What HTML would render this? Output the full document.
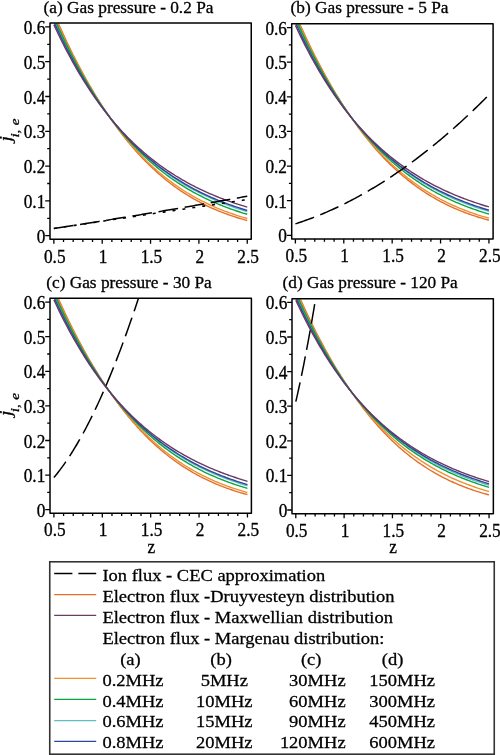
<!DOCTYPE html>
<html lang="en">
<head>
<meta charset="utf-8">
<title>Ion and electron flux vs z at several gas pressures</title>
<style>
html,body{margin:0;padding:0;background:#fff;}
body{width:500px;height:755px;overflow:hidden;}
svg{display:block;}
text{white-space:pre;stroke:#000;stroke-width:0.3px;}
</style>
</head>
<body>
<svg width="500" height="755" viewBox="0 0 500 755">
<rect x="0" y="0" width="500" height="755" fill="#fff"/>
<g id="panel-a">
<clipPath id="clipa"><rect x="50.00" y="23.40" width="201.25" height="215.90"/></clipPath>
<g clip-path="url(#clipa)" fill="none" stroke-width="1.4">
<path d="M53.85,13.24 L55.46,16.97 L57.07,20.64 L58.69,24.28 L60.30,27.86 L61.91,31.40 L63.52,34.90 L65.13,38.35 L66.74,41.76 L68.36,45.12 L69.97,48.44 L71.58,51.71 L73.19,54.94 L74.80,58.13 L76.41,61.27 L78.03,64.37 L79.64,67.43 L81.25,70.45 L82.86,73.43 L84.47,76.36 L86.08,79.25 L87.69,82.11 L89.31,84.92 L90.92,87.69 L92.53,90.43 L94.14,93.12 L95.75,95.78 L97.36,98.40 L98.98,100.97 L100.59,103.51 L102.20,106.02 L103.81,108.48 L105.42,110.91 L107.04,113.31 L108.65,115.66 L110.26,117.99 L111.87,120.32 L113.48,122.62 L115.09,124.88 L116.70,127.10 L118.32,129.29 L119.93,131.45 L121.54,133.57 L123.15,135.66 L124.76,137.71 L126.38,139.73 L127.99,141.72 L129.60,143.67 L131.21,145.60 L132.82,147.49 L134.43,149.35 L136.05,151.18 L137.66,152.97 L139.27,154.74 L140.88,156.48 L142.49,158.19 L144.10,159.86 L145.72,161.51 L147.33,163.13 L148.94,164.72 L150.55,166.29 L152.16,167.82 L153.77,169.33 L155.39,170.81 L157.00,172.26 L158.61,173.69 L160.22,175.09 L161.83,176.47 L163.44,177.82 L165.06,179.14 L166.67,180.44 L168.28,181.72 L169.89,182.97 L171.50,184.19 L173.11,185.40 L174.72,186.58 L176.34,187.73 L177.95,188.87 L179.56,189.98 L181.17,191.07 L182.78,192.14 L184.40,193.19 L186.01,194.21 L187.62,195.22 L189.23,196.21 L190.84,197.17 L192.45,198.12 L194.06,199.04 L195.68,199.95 L197.29,200.84 L198.90,201.71 L200.51,202.56 L202.12,203.39 L203.73,204.21 L205.35,205.00 L206.96,205.79 L208.57,206.55 L210.18,207.30 L211.79,208.03 L213.41,208.74 L215.02,209.44 L216.63,210.13 L218.24,210.79 L219.85,211.45 L221.46,212.09 L223.07,212.71 L224.69,213.32 L226.30,213.92 L227.91,214.50 L229.52,215.07 L231.13,215.63 L232.74,216.17 L234.36,216.70 L235.97,217.22 L237.58,217.72 L239.19,218.22 L240.80,218.70 L242.42,219.17 L244.03,219.63 L245.64,220.08 L247.25,220.51" stroke="#E5702A"/>
<path d="M53.85,15.22 L55.46,18.90 L57.07,22.54 L58.69,26.13 L60.30,29.66 L61.91,33.16 L63.52,36.60 L65.13,40.00 L66.74,43.36 L68.36,46.66 L69.97,49.93 L71.58,53.14 L73.19,56.32 L74.80,59.45 L76.41,62.53 L78.03,65.57 L79.64,68.57 L81.25,71.53 L82.86,74.45 L84.47,77.32 L86.08,80.15 L87.69,82.94 L89.31,85.70 L90.92,88.41 L92.53,91.08 L94.14,93.71 L95.75,96.31 L97.36,98.86 L98.98,101.38 L100.59,103.86 L102.20,106.30 L103.81,108.71 L105.42,111.08 L107.04,113.41 L108.65,115.71 L110.26,117.98 L111.87,120.23 L113.48,122.45 L115.09,124.63 L116.70,126.79 L118.32,128.90 L119.93,130.99 L121.54,133.04 L123.15,135.06 L124.76,137.04 L126.38,138.99 L127.99,140.92 L129.60,142.81 L131.21,144.67 L132.82,146.50 L134.43,148.30 L136.05,150.07 L137.66,151.81 L139.27,153.52 L140.88,155.20 L142.49,156.86 L144.10,158.48 L145.72,160.08 L147.33,161.65 L148.94,163.20 L150.55,164.71 L152.16,166.20 L153.77,167.67 L155.39,169.11 L157.00,170.52 L158.61,171.91 L160.22,173.27 L161.83,174.61 L163.44,175.93 L165.06,177.22 L166.67,178.49 L168.28,179.74 L169.89,180.96 L171.50,182.16 L173.11,183.34 L174.72,184.49 L176.34,185.63 L177.95,186.74 L179.56,187.83 L181.17,188.90 L182.78,189.96 L184.40,190.99 L186.01,192.00 L187.62,192.99 L189.23,193.96 L190.84,194.92 L192.45,195.85 L194.06,196.77 L195.68,197.67 L197.29,198.55 L198.90,199.42 L200.51,200.26 L202.12,201.09 L203.73,201.91 L205.35,202.70 L206.96,203.48 L208.57,204.25 L210.18,205.00 L211.79,205.73 L213.41,206.45 L215.02,207.15 L216.63,207.84 L218.24,208.52 L219.85,209.18 L221.46,209.83 L223.07,210.46 L224.69,211.08 L226.30,211.69 L227.91,212.28 L229.52,212.86 L231.13,213.43 L232.74,213.98 L234.36,214.53 L235.97,215.06 L237.58,215.58 L239.19,216.09 L240.80,216.59 L242.42,217.07 L244.03,217.55 L245.64,218.01 L247.25,218.47" stroke="#EE9030"/>
<path d="M53.85,19.46 L55.46,23.06 L57.07,26.60 L58.69,30.09 L60.30,33.53 L61.91,36.92 L63.52,40.26 L65.13,43.55 L66.74,46.79 L68.36,49.98 L69.97,53.13 L71.58,56.22 L73.19,59.28 L74.80,62.28 L76.41,65.24 L78.03,68.16 L79.64,71.03 L81.25,73.86 L82.86,76.64 L84.47,79.39 L86.08,82.09 L87.69,84.75 L89.31,87.37 L90.92,89.95 L92.53,92.48 L94.14,94.99 L95.75,97.45 L97.36,99.87 L98.98,102.26 L100.59,104.60 L102.20,106.92 L103.81,109.19 L105.42,111.43 L107.04,113.64 L108.65,115.81 L110.26,117.93 L111.87,119.99 L113.48,122.00 L115.09,123.99 L116.70,125.94 L118.32,127.86 L119.93,129.76 L121.54,131.62 L123.15,133.45 L124.76,135.25 L126.38,137.02 L127.99,138.76 L129.60,140.48 L131.21,142.16 L132.82,143.82 L134.43,145.45 L136.05,147.06 L137.66,148.64 L139.27,150.19 L140.88,151.72 L142.49,153.22 L144.10,154.70 L145.72,156.15 L147.33,157.58 L148.94,158.98 L150.55,160.37 L152.16,161.73 L153.77,163.06 L155.39,164.38 L157.00,165.67 L158.61,166.94 L160.22,168.19 L161.83,169.42 L163.44,170.62 L165.06,171.81 L166.67,172.98 L168.28,174.13 L169.89,175.26 L171.50,176.36 L173.11,177.46 L174.72,178.53 L176.34,179.58 L177.95,180.62 L179.56,181.64 L181.17,182.64 L182.78,183.62 L184.40,184.59 L186.01,185.54 L187.62,186.47 L189.23,187.39 L190.84,188.29 L192.45,189.18 L194.06,190.05 L195.68,190.90 L197.29,191.75 L198.90,192.57 L200.51,193.38 L202.12,194.18 L203.73,194.97 L205.35,195.74 L206.96,196.49 L208.57,197.24 L210.18,197.97 L211.79,198.69 L213.41,199.39 L215.02,200.08 L216.63,200.76 L218.24,201.43 L219.85,202.09 L221.46,202.73 L223.07,203.37 L224.69,203.99 L226.30,204.60 L227.91,205.20 L229.52,205.79 L231.13,206.37 L232.74,206.94 L234.36,207.50 L235.97,208.04 L237.58,208.58 L239.19,209.11 L240.80,209.63 L242.42,210.14 L244.03,210.64 L245.64,211.13 L247.25,211.61" stroke="#60BEC0"/>
<path d="M53.85,17.41 L55.46,21.05 L57.07,24.63 L58.69,28.17 L60.30,31.66 L61.91,35.10 L63.52,38.49 L65.13,41.83 L66.74,45.13 L68.36,48.37 L69.97,51.58 L71.58,54.73 L73.19,57.84 L74.80,60.91 L76.41,63.93 L78.03,66.91 L79.64,69.84 L81.25,72.73 L82.86,75.58 L84.47,78.38 L86.08,81.15 L87.69,83.87 L89.31,86.56 L90.92,89.20 L92.53,91.80 L94.14,94.37 L95.75,96.89 L97.36,99.38 L98.98,101.83 L100.59,104.24 L102.20,106.62 L103.81,108.96 L105.42,111.26 L107.04,113.53 L108.65,115.76 L110.26,117.95 L111.87,120.07 L113.48,122.16 L115.09,124.21 L116.70,126.24 L118.32,128.23 L119.93,130.19 L121.54,132.11 L123.15,134.01 L124.76,135.88 L126.38,137.71 L127.99,139.52 L129.60,141.30 L131.21,143.04 L132.82,144.76 L134.43,146.46 L136.05,148.12 L137.66,149.76 L139.27,151.37 L140.88,152.95 L142.49,154.51 L144.10,156.04 L145.72,157.54 L147.33,159.03 L148.94,160.48 L150.55,161.91 L152.16,163.32 L153.77,164.70 L155.39,166.06 L157.00,167.40 L158.61,168.72 L160.22,170.01 L161.83,171.28 L163.44,172.53 L165.06,173.75 L166.67,174.96 L168.28,176.15 L169.89,177.31 L171.50,178.45 L173.11,179.58 L174.72,180.68 L176.34,181.77 L177.95,182.84 L179.56,183.88 L181.17,184.91 L182.78,185.93 L184.40,186.92 L186.01,187.89 L187.62,188.85 L189.23,189.79 L190.84,190.72 L192.45,191.63 L194.06,192.52 L195.68,193.39 L197.29,194.25 L198.90,195.10 L200.51,195.93 L202.12,196.74 L203.73,197.54 L205.35,198.32 L206.96,199.09 L208.57,199.85 L210.18,200.59 L211.79,201.32 L213.41,202.03 L215.02,202.73 L216.63,203.42 L218.24,204.09 L219.85,204.76 L221.46,205.41 L223.07,206.04 L224.69,206.67 L226.30,207.28 L227.91,207.89 L229.52,208.48 L231.13,209.06 L232.74,209.63 L234.36,210.18 L235.97,210.73 L237.58,211.27 L239.19,211.79 L240.80,212.31 L242.42,212.81 L244.03,213.31 L245.64,213.79 L247.25,214.27" stroke="#0AA540"/>
<path d="M53.85,21.84 L55.46,25.38 L57.07,28.87 L58.69,32.31 L60.30,35.70 L61.91,39.03 L63.52,42.31 L65.13,45.53 L66.74,48.71 L68.36,51.84 L69.97,54.92 L71.58,57.95 L73.19,60.93 L74.80,63.87 L76.41,66.76 L78.03,69.61 L79.64,72.41 L81.25,75.16 L82.86,77.88 L84.47,80.55 L86.08,83.18 L87.69,85.76 L89.31,88.31 L90.92,90.81 L92.53,93.28 L94.14,95.70 L95.75,98.09 L97.36,100.44 L98.98,102.75 L100.59,105.03 L102.20,107.26 L103.81,109.47 L105.42,111.64 L107.04,113.77 L108.65,115.87 L110.26,117.93 L111.87,119.95 L113.48,121.94 L115.09,123.90 L116.70,125.82 L118.32,127.72 L119.93,129.58 L121.54,131.41 L123.15,133.22 L124.76,134.99 L126.38,136.74 L127.99,138.45 L129.60,140.14 L131.21,141.80 L132.82,143.44 L134.43,145.04 L136.05,146.62 L137.66,148.18 L139.27,149.71 L140.88,151.21 L142.49,152.69 L144.10,154.15 L145.72,155.58 L147.33,156.98 L148.94,158.37 L150.55,159.73 L152.16,161.07 L153.77,162.39 L155.39,163.68 L157.00,164.95 L158.61,166.20 L160.22,167.44 L161.83,168.65 L163.44,169.84 L165.06,171.01 L166.67,172.16 L168.28,173.29 L169.89,174.40 L171.50,175.50 L173.11,176.57 L174.72,177.63 L176.34,178.67 L177.95,179.69 L179.56,180.70 L181.17,181.68 L182.78,182.65 L184.40,183.61 L186.01,184.55 L187.62,185.47 L189.23,186.38 L190.84,187.27 L192.45,188.15 L194.06,189.01 L195.68,189.85 L197.29,190.69 L198.90,191.50 L200.51,192.31 L202.12,193.10 L203.73,193.88 L205.35,194.64 L206.96,195.39 L208.57,196.13 L210.18,196.85 L211.79,197.56 L213.41,198.26 L215.02,198.95 L216.63,199.63 L218.24,200.29 L219.85,200.94 L221.46,201.58 L223.07,202.21 L224.69,202.83 L226.30,203.44 L227.91,204.04 L229.52,204.63 L231.13,205.20 L232.74,205.77 L234.36,206.33 L235.97,206.88 L237.58,207.41 L239.19,207.94 L240.80,208.46 L242.42,208.97 L244.03,209.47 L245.64,209.96 L247.25,210.45" stroke="#2C46A0"/>
<path d="M53.85,24.63 L55.46,28.12 L57.07,31.55 L58.69,34.92 L60.30,38.24 L61.91,41.50 L63.52,44.71 L65.13,47.87 L66.74,50.97 L68.36,54.03 L69.97,57.03 L71.58,59.98 L73.19,62.89 L74.80,65.74 L76.41,68.55 L78.03,71.32 L79.64,74.03 L81.25,76.71 L82.86,79.33 L84.47,81.92 L86.08,84.46 L87.69,86.96 L89.31,89.42 L90.92,91.84 L92.53,94.21 L94.14,96.55 L95.75,98.85 L97.36,101.11 L98.98,103.34 L100.59,105.53 L102.20,107.68 L103.81,109.79 L105.42,111.88 L107.04,113.92 L108.65,115.93 L110.26,117.91 L111.87,119.86 L113.48,121.78 L115.09,123.66 L116.70,125.51 L118.32,127.33 L119.93,129.12 L121.54,130.88 L123.15,132.62 L124.76,134.32 L126.38,136.00 L127.99,137.64 L129.60,139.27 L131.21,140.86 L132.82,142.43 L134.43,143.97 L136.05,145.48 L137.66,146.98 L139.27,148.44 L140.88,149.88 L142.49,151.30 L144.10,152.70 L145.72,154.07 L147.33,155.42 L148.94,156.75 L150.55,158.05 L152.16,159.33 L153.77,160.60 L155.39,161.84 L157.00,163.06 L158.61,164.26 L160.22,165.44 L161.83,166.60 L163.44,167.74 L165.06,168.87 L166.67,169.97 L168.28,171.06 L169.89,172.13 L171.50,173.18 L173.11,174.21 L174.72,175.23 L176.34,176.23 L177.95,177.21 L179.56,178.18 L181.17,179.13 L182.78,180.06 L184.40,180.98 L186.01,181.89 L187.62,182.78 L189.23,183.65 L190.84,184.51 L192.45,185.36 L194.06,186.19 L195.68,187.01 L197.29,187.81 L198.90,188.60 L200.51,189.38 L202.12,190.15 L203.73,190.90 L205.35,191.64 L206.96,192.37 L208.57,193.09 L210.18,193.79 L211.79,194.48 L213.41,195.16 L215.02,195.83 L216.63,196.49 L218.24,197.14 L219.85,197.78 L221.46,198.40 L223.07,199.02 L224.69,199.63 L226.30,200.22 L227.91,200.81 L229.52,201.39 L231.13,201.95 L232.74,202.51 L234.36,203.06 L235.97,203.60 L237.58,204.13 L239.19,204.65 L240.80,205.17 L242.42,205.67 L244.03,206.17 L245.64,206.65 L247.25,207.13" stroke="#6B3A62"/>
<path d="M53.85,228.48 L55.46,228.24 L57.07,228.00 L58.69,227.76 L60.30,227.52 L61.91,227.28 L63.52,227.03 L65.13,226.79 L66.74,226.55 L68.36,226.31 L69.97,226.07 L71.58,225.83 L73.19,225.59 L74.80,225.35 L76.41,225.11 L78.03,224.87 L79.64,224.63 L81.25,224.39 L82.86,224.15 L84.47,223.91 L86.08,223.66 L87.69,223.42 L89.31,223.18 L90.92,222.94 L92.53,222.70 L94.14,222.46 L95.75,222.22 L97.36,221.98 L98.98,221.74 L100.59,221.50 L102.20,221.26 L103.81,221.02 L105.42,220.78 L107.04,220.54 L108.65,220.30 L110.26,220.05 L111.87,219.81 L113.48,219.57 L115.09,219.33 L116.70,219.09 L118.32,218.85 L119.93,218.61 L121.54,218.37 L123.15,218.13 L124.76,217.89 L126.38,217.65 L127.99,217.41 L129.60,217.17 L131.21,216.93 L132.82,216.68 L134.43,216.44 L136.05,216.20 L137.66,215.96 L139.27,215.72 L140.88,215.48 L142.49,215.24 L144.10,215.00 L145.72,214.76 L147.33,214.52 L148.94,214.28 L150.55,214.04 L152.16,213.80 L153.77,213.56 L155.39,213.31 L157.00,213.07 L158.61,212.83 L160.22,212.59 L161.83,212.35 L163.44,212.11 L165.06,211.87 L166.67,211.63 L168.28,211.39 L169.89,211.15 L171.50,210.91 L173.11,210.67 L174.72,210.43 L176.34,210.19 L177.95,209.95 L179.56,209.70 L181.17,209.46 L182.78,209.22 L184.40,208.98 L186.01,208.74 L187.62,208.50 L189.23,208.26 L190.84,208.02 L192.45,207.78 L194.06,207.54 L195.68,207.30 L197.29,207.06 L198.90,206.82 L200.51,206.58 L202.12,206.33 L203.73,206.09 L205.35,205.85 L206.96,205.61 L208.57,205.37 L210.18,205.13 L211.79,204.89 L213.41,204.65 L215.02,204.41 L216.63,204.17 L218.24,203.93 L219.85,203.69 L221.46,203.45 L223.07,203.21 L224.69,202.96 L226.30,202.72 L227.91,202.48 L229.52,202.24 L231.13,202.00 L232.74,201.76 L234.36,201.52 L235.97,201.28 L237.58,201.04 L239.19,200.80 L240.80,200.56 L242.42,200.32 L244.03,200.08 L245.64,199.84 L247.25,199.59" stroke="#000" stroke-width="1.6" stroke-dasharray="3 7"/>
<path d="M53.85,228.48 L55.46,228.24 L57.07,227.99 L58.69,227.74 L60.30,227.49 L61.91,227.25 L63.52,227.00 L65.13,226.75 L66.74,226.50 L68.36,226.25 L69.97,226.00 L71.58,225.75 L73.19,225.50 L74.80,225.25 L76.41,225.00 L78.03,224.75 L79.64,224.49 L81.25,224.24 L82.86,223.99 L84.47,223.73 L86.08,223.48 L87.69,223.23 L89.31,222.97 L90.92,222.72 L92.53,222.46 L94.14,222.21 L95.75,221.95 L97.36,221.70 L98.98,221.44 L100.59,221.18 L102.20,220.92 L103.81,220.67 L105.42,220.41 L107.04,220.15 L108.65,219.89 L110.26,219.63 L111.87,219.37 L113.48,219.11 L115.09,218.85 L116.70,218.59 L118.32,218.33 L119.93,218.07 L121.54,217.81 L123.15,217.54 L124.76,217.28 L126.38,217.02 L127.99,216.75 L129.60,216.49 L131.21,216.23 L132.82,215.96 L134.43,215.70 L136.05,215.43 L137.66,215.16 L139.27,214.90 L140.88,214.63 L142.49,214.36 L144.10,214.10 L145.72,213.83 L147.33,213.56 L148.94,213.29 L150.55,213.02 L152.16,212.76 L153.77,212.49 L155.39,212.22 L157.00,211.95 L158.61,211.67 L160.22,211.40 L161.83,211.13 L163.44,210.86 L165.06,210.59 L166.67,210.32 L168.28,210.04 L169.89,209.77 L171.50,209.50 L173.11,209.22 L174.72,208.95 L176.34,208.67 L177.95,208.40 L179.56,208.12 L181.17,207.84 L182.78,207.57 L184.40,207.29 L186.01,207.01 L187.62,206.74 L189.23,206.46 L190.84,206.18 L192.45,205.90 L194.06,205.62 L195.68,205.34 L197.29,205.06 L198.90,204.78 L200.51,204.50 L202.12,204.22 L203.73,203.94 L205.35,203.66 L206.96,203.38 L208.57,203.09 L210.18,202.81 L211.79,202.53 L213.41,202.24 L215.02,201.96 L216.63,201.68 L218.24,201.39 L219.85,201.11 L221.46,200.82 L223.07,200.54 L224.69,200.25 L226.30,199.96 L227.91,199.68 L229.52,199.39 L231.13,199.10 L232.74,198.81 L234.36,198.52 L235.97,198.23 L237.58,197.95 L239.19,197.66 L240.80,197.37 L242.42,197.08 L244.03,196.78 L245.64,196.49 L247.25,196.20" stroke="#000" stroke-width="1.5" stroke-dasharray="19.8 6.7"/>
</g>
<g stroke="#000" fill="none" stroke-linecap="butt">
<path d="M50.00,22.90H251.25V239.30H50.00Z" stroke-width="1.5" stroke-linejoin="round"/>
<path d="M50.00,235.70h-4.80 M50.00,218.30h-2.80 M50.00,200.90h-4.80 M50.00,183.50h-2.80 M50.00,166.10h-4.80 M50.00,148.70h-2.80 M50.00,131.30h-4.80 M50.00,113.90h-2.80 M50.00,96.50h-4.80 M50.00,79.10h-2.80 M50.00,61.70h-4.80 M50.00,44.30h-2.80 M50.00,26.90h-4.80 M53.85,239.30v4.40 M63.52,239.30v2.70 M73.19,239.30v2.70 M82.86,239.30v2.70 M92.53,239.30v2.70 M102.20,239.30v4.40 M111.87,239.30v2.70 M121.54,239.30v2.70 M131.21,239.30v2.70 M140.88,239.30v2.70 M150.55,239.30v4.40 M160.22,239.30v2.70 M169.89,239.30v2.70 M179.56,239.30v2.70 M189.23,239.30v2.70 M198.90,239.30v4.40 M208.57,239.30v2.70 M218.24,239.30v2.70 M227.91,239.30v2.70 M237.58,239.30v2.70 M247.25,239.30v4.40" stroke-width="1.3"/>
</g>
<g font-family='"Liberation Serif", "Times New Roman", Times, serif' font-size="17.3" fill="#000">
<text transform="translate(45.30,242.70) scale(1,1.09)" text-anchor="end">0</text>
<text transform="translate(45.30,207.90) scale(1,1.09)" text-anchor="end">0.1</text>
<text transform="translate(45.30,173.10) scale(1,1.09)" text-anchor="end">0.2</text>
<text transform="translate(45.30,138.30) scale(1,1.09)" text-anchor="end">0.3</text>
<text transform="translate(45.30,103.50) scale(1,1.09)" text-anchor="end">0.4</text>
<text transform="translate(45.30,68.70) scale(1,1.09)" text-anchor="end">0.5</text>
<text transform="translate(45.30,33.90) scale(1,1.09)" text-anchor="end">0.6</text>
<text transform="translate(54.75,262.50) scale(1,1.09)" text-anchor="middle">0.5</text>
<text transform="translate(103.10,262.50) scale(1,1.09)" text-anchor="middle">1</text>
<text transform="translate(151.45,262.50) scale(1,1.09)" text-anchor="middle">1.5</text>
<text transform="translate(199.80,262.50) scale(1,1.09)" text-anchor="middle">2</text>
<text transform="translate(248.15,262.50) scale(1,1.09)" text-anchor="middle">2.5</text>
<text x="128.50" y="12.50" text-anchor="middle">(a) Gas pressure - 0.2 Pa</text>
<g transform="translate(11.6,142.90) scale(1,1.15) rotate(-90)"><text x="1.3" y="-0.6" font-style="italic" font-size="17">j</text><text x="4.6" y="7.6" font-style="italic" font-size="13.2">i,</text><text x="15.4" y="7.6" font-style="italic" font-size="13.2">e</text></g>
</g>
</g>
<g id="panel-b">
<clipPath id="clipb"><rect x="291.70" y="24.35" width="201.40" height="214.75"/></clipPath>
<g clip-path="url(#clipb)" fill="none" stroke-width="1.4">
<path d="M295.40,14.01 L297.01,17.72 L298.63,21.38 L300.24,24.99 L301.85,28.56 L303.46,32.08 L305.08,35.56 L306.69,38.99 L308.30,42.38 L309.92,45.73 L311.53,49.03 L313.14,52.28 L314.75,55.50 L316.37,58.67 L317.98,61.80 L319.59,64.88 L321.21,67.93 L322.82,70.93 L324.43,73.89 L326.05,76.81 L327.66,79.69 L329.27,82.53 L330.88,85.33 L332.50,88.09 L334.11,90.81 L335.72,93.49 L337.34,96.13 L338.95,98.74 L340.56,101.30 L342.17,103.83 L343.79,106.32 L345.40,108.77 L347.01,111.19 L348.63,113.57 L350.24,115.92 L351.85,118.23 L353.46,120.55 L355.08,122.84 L356.69,125.08 L358.30,127.30 L359.92,129.48 L361.53,131.62 L363.14,133.73 L364.76,135.81 L366.37,137.85 L367.98,139.86 L369.59,141.84 L371.21,143.79 L372.82,145.70 L374.43,147.58 L376.05,149.43 L377.66,151.25 L379.27,153.04 L380.88,154.80 L382.50,156.53 L384.11,158.23 L385.72,159.90 L387.34,161.54 L388.95,163.15 L390.56,164.73 L392.17,166.29 L393.79,167.81 L395.40,169.31 L397.01,170.79 L398.63,172.23 L400.24,173.65 L401.85,175.05 L403.47,176.42 L405.08,177.76 L406.69,179.08 L408.30,180.37 L409.92,181.64 L411.53,182.88 L413.14,184.10 L414.76,185.30 L416.37,186.47 L417.98,187.63 L419.59,188.75 L421.21,189.86 L422.82,190.95 L424.43,192.01 L426.05,193.05 L427.66,194.07 L429.27,195.07 L430.88,196.05 L432.50,197.02 L434.11,197.96 L435.72,198.88 L437.34,199.78 L438.95,200.66 L440.56,201.53 L442.18,202.37 L443.79,203.20 L445.40,204.01 L447.01,204.81 L448.63,205.59 L450.24,206.35 L451.85,207.09 L453.47,207.82 L455.08,208.53 L456.69,209.22 L458.30,209.90 L459.92,210.57 L461.53,211.22 L463.14,211.85 L464.76,212.48 L466.37,213.08 L467.98,213.68 L469.59,214.26 L471.21,214.82 L472.82,215.38 L474.43,215.92 L476.05,216.44 L477.66,216.96 L479.27,217.46 L480.89,217.95 L482.50,218.43 L484.11,218.90 L485.72,219.36 L487.34,219.80 L488.95,220.24" stroke="#E5702A"/>
<path d="M295.40,15.98 L297.01,19.64 L298.63,23.26 L300.24,26.83 L301.85,30.35 L303.46,33.83 L305.08,37.25 L306.69,40.64 L308.30,43.97 L309.92,47.26 L311.53,50.51 L313.14,53.71 L314.75,56.87 L316.37,59.98 L317.98,63.05 L319.59,66.08 L321.21,69.06 L322.82,72.01 L324.43,74.91 L326.05,77.77 L327.66,80.58 L329.27,83.36 L330.88,86.10 L332.50,88.80 L334.11,91.46 L335.72,94.08 L337.34,96.66 L338.95,99.20 L340.56,101.70 L342.17,104.17 L343.79,106.60 L345.40,109.00 L347.01,111.35 L348.63,113.68 L350.24,115.96 L351.85,118.22 L353.46,120.46 L355.08,122.67 L356.69,124.84 L358.30,126.98 L359.92,129.09 L361.53,131.16 L363.14,133.20 L364.76,135.21 L366.37,137.19 L367.98,139.13 L369.59,141.04 L371.21,142.93 L372.82,144.78 L374.43,146.60 L376.05,148.39 L377.66,150.15 L379.27,151.88 L380.88,153.58 L382.50,155.26 L384.11,156.90 L385.72,158.52 L387.34,160.11 L388.95,161.67 L390.56,163.21 L392.17,164.72 L393.79,166.20 L395.40,167.66 L397.01,169.09 L398.63,170.50 L400.24,171.88 L401.85,173.24 L403.47,174.57 L405.08,175.88 L406.69,177.17 L408.30,178.43 L409.92,179.67 L411.53,180.88 L413.14,182.08 L414.76,183.25 L416.37,184.40 L417.98,185.53 L419.59,186.64 L421.21,187.72 L422.82,188.79 L424.43,189.84 L426.05,190.86 L427.66,191.87 L429.27,192.86 L430.88,193.82 L432.50,194.77 L434.11,195.70 L435.72,196.62 L437.34,197.51 L438.95,198.39 L440.56,199.25 L442.18,200.09 L443.79,200.92 L445.40,201.73 L447.01,202.52 L448.63,203.30 L450.24,204.06 L451.85,204.80 L453.47,205.53 L455.08,206.25 L456.69,206.95 L458.30,207.63 L459.92,208.31 L461.53,208.96 L463.14,209.61 L464.76,210.24 L466.37,210.85 L467.98,211.46 L469.59,212.05 L471.21,212.62 L472.82,213.19 L474.43,213.74 L476.05,214.28 L477.66,214.81 L479.27,215.33 L480.89,215.84 L482.50,216.33 L484.11,216.82 L485.72,217.29 L487.34,217.75 L488.95,218.20" stroke="#EE9030"/>
<path d="M295.40,20.20 L297.01,23.78 L298.63,27.30 L300.24,30.78 L301.85,34.20 L303.46,37.57 L305.08,40.89 L306.69,44.17 L308.30,47.39 L309.92,50.57 L311.53,53.70 L313.14,56.78 L314.75,59.81 L316.37,62.80 L317.98,65.75 L319.59,68.65 L321.21,71.51 L322.82,74.32 L324.43,77.09 L326.05,79.82 L327.66,82.51 L329.27,85.16 L330.88,87.76 L332.50,90.33 L334.11,92.86 L335.72,95.34 L337.34,97.79 L338.95,100.20 L340.56,102.58 L342.17,104.91 L343.79,107.21 L345.40,109.48 L347.01,111.71 L348.63,113.90 L350.24,116.06 L351.85,118.18 L353.46,120.22 L355.08,122.23 L356.69,124.20 L358.30,126.14 L359.92,128.06 L361.53,129.94 L363.14,131.79 L364.76,133.61 L366.37,135.40 L367.98,137.16 L369.59,138.90 L371.21,140.60 L372.82,142.28 L374.43,143.93 L376.05,145.56 L377.66,147.15 L379.27,148.72 L380.88,150.27 L382.50,151.79 L384.11,153.28 L385.72,154.75 L387.34,156.20 L388.95,157.62 L390.56,159.02 L392.17,160.40 L393.79,161.75 L395.40,163.08 L397.01,164.38 L398.63,165.67 L400.24,166.93 L401.85,168.18 L403.47,169.40 L405.08,170.60 L406.69,171.78 L408.30,172.94 L409.92,174.09 L411.53,175.21 L413.14,176.31 L414.76,177.40 L416.37,178.46 L417.98,179.51 L419.59,180.54 L421.21,181.56 L422.82,182.55 L424.43,183.53 L426.05,184.49 L427.66,185.44 L429.27,186.37 L430.88,187.28 L432.50,188.18 L434.11,189.06 L435.72,189.93 L437.34,190.78 L438.95,191.62 L440.56,192.44 L442.18,193.25 L443.79,194.04 L445.40,194.82 L447.01,195.59 L448.63,196.34 L450.24,197.08 L451.85,197.81 L453.47,198.52 L455.08,199.22 L456.69,199.91 L458.30,200.59 L459.92,201.26 L461.53,201.91 L463.14,202.55 L464.76,203.18 L466.37,203.80 L467.98,204.41 L469.59,205.00 L471.21,205.59 L472.82,206.17 L474.43,206.73 L476.05,207.29 L477.66,207.83 L479.27,208.37 L480.89,208.90 L482.50,209.41 L484.11,209.92 L485.72,210.42 L487.34,210.91 L488.95,211.39" stroke="#60BEC0"/>
<path d="M295.40,18.16 L297.01,21.78 L298.63,25.35 L300.24,28.87 L301.85,32.34 L303.46,35.76 L305.08,39.13 L306.69,42.46 L308.30,45.74 L309.92,48.97 L311.53,52.15 L313.14,55.29 L314.75,58.39 L316.37,61.44 L317.98,64.44 L319.59,67.40 L321.21,70.32 L322.82,73.20 L324.43,76.03 L326.05,78.83 L327.66,81.58 L329.27,84.29 L330.88,86.96 L332.50,89.59 L334.11,92.18 L335.72,94.73 L337.34,97.24 L338.95,99.72 L340.56,102.15 L342.17,104.55 L343.79,106.92 L345.40,109.24 L347.01,111.54 L348.63,113.79 L350.24,116.01 L351.85,118.19 L353.46,120.30 L355.08,122.38 L356.69,124.43 L358.30,126.44 L359.92,128.42 L361.53,130.37 L363.14,132.29 L364.76,134.17 L366.37,136.03 L367.98,137.86 L369.59,139.65 L371.21,141.42 L372.82,143.16 L374.43,144.87 L376.05,146.56 L377.66,148.21 L379.27,149.84 L380.88,151.44 L382.50,153.02 L384.11,154.57 L385.72,156.09 L387.34,157.59 L388.95,159.06 L390.56,160.51 L392.17,161.93 L393.79,163.33 L395.40,164.71 L397.01,166.06 L398.63,167.40 L400.24,168.70 L401.85,169.99 L403.47,171.25 L405.08,172.50 L406.69,173.72 L408.30,174.92 L409.92,176.10 L411.53,177.25 L413.14,178.39 L414.76,179.51 L416.37,180.61 L417.98,181.69 L419.59,182.75 L421.21,183.80 L422.82,184.82 L424.43,185.83 L426.05,186.81 L427.66,187.78 L429.27,188.74 L430.88,189.67 L432.50,190.59 L434.11,191.50 L435.72,192.38 L437.34,193.26 L438.95,194.11 L440.56,194.95 L442.18,195.78 L443.79,196.58 L445.40,197.38 L447.01,198.16 L448.63,198.93 L450.24,199.68 L451.85,200.41 L453.47,201.14 L455.08,201.85 L456.69,202.55 L458.30,203.23 L459.92,203.90 L461.53,204.56 L463.14,205.21 L464.76,205.84 L466.37,206.47 L467.98,207.08 L469.59,207.68 L471.21,208.26 L472.82,208.84 L474.43,209.41 L476.05,209.96 L477.66,210.50 L479.27,211.04 L480.89,211.56 L482.50,212.07 L484.11,212.58 L485.72,213.07 L487.34,213.55 L488.95,214.03" stroke="#0AA540"/>
<path d="M295.40,22.56 L297.01,26.09 L298.63,29.56 L300.24,32.98 L301.85,36.35 L303.46,39.67 L305.08,42.93 L306.69,46.14 L308.30,49.30 L309.92,52.41 L311.53,55.48 L313.14,58.49 L314.75,61.46 L316.37,64.39 L317.98,67.26 L319.59,70.09 L321.21,72.88 L322.82,75.62 L324.43,78.32 L326.05,80.98 L327.66,83.59 L329.27,86.17 L330.88,88.70 L332.50,91.19 L334.11,93.64 L335.72,96.06 L337.34,98.43 L338.95,100.77 L340.56,103.07 L342.17,105.33 L343.79,107.56 L345.40,109.75 L347.01,111.91 L348.63,114.03 L350.24,116.12 L351.85,118.17 L353.46,120.18 L355.08,122.16 L356.69,124.11 L358.30,126.03 L359.92,127.91 L361.53,129.76 L363.14,131.59 L364.76,133.38 L366.37,135.15 L367.98,136.88 L369.59,138.59 L371.21,140.27 L372.82,141.92 L374.43,143.55 L376.05,145.15 L377.66,146.72 L379.27,148.27 L380.88,149.79 L382.50,151.29 L384.11,152.76 L385.72,154.21 L387.34,155.63 L388.95,157.03 L390.56,158.41 L392.17,159.76 L393.79,161.09 L395.40,162.40 L397.01,163.69 L398.63,164.96 L400.24,166.20 L401.85,167.43 L403.47,168.63 L405.08,169.82 L406.69,170.98 L408.30,172.13 L409.92,173.25 L411.53,174.36 L413.14,175.45 L414.76,176.52 L416.37,177.57 L417.98,178.61 L419.59,179.62 L421.21,180.62 L422.82,181.61 L424.43,182.57 L426.05,183.52 L427.66,184.46 L429.27,185.37 L430.88,186.28 L432.50,187.16 L434.11,188.04 L435.72,188.89 L437.34,189.73 L438.95,190.56 L440.56,191.38 L442.18,192.18 L443.79,192.96 L445.40,193.74 L447.01,194.50 L448.63,195.24 L450.24,195.98 L451.85,196.70 L453.47,197.41 L455.08,198.10 L456.69,198.79 L458.30,199.46 L459.92,200.12 L461.53,200.77 L463.14,201.41 L464.76,202.03 L466.37,202.65 L467.98,203.25 L469.59,203.85 L471.21,204.43 L472.82,205.01 L474.43,205.57 L476.05,206.13 L477.66,206.67 L479.27,207.21 L480.89,207.73 L482.50,208.25 L484.11,208.75 L485.72,209.25 L487.34,209.74 L488.95,210.22" stroke="#2C46A0"/>
<path d="M295.40,25.34 L297.01,28.81 L298.63,32.22 L300.24,35.58 L301.85,38.88 L303.46,42.13 L305.08,45.32 L306.69,48.46 L308.30,51.55 L309.92,54.59 L311.53,57.58 L313.14,60.52 L314.75,63.41 L316.37,66.25 L317.98,69.04 L319.59,71.79 L321.21,74.50 L322.82,77.16 L324.43,79.77 L326.05,82.34 L327.66,84.87 L329.27,87.36 L330.88,89.80 L332.50,92.21 L334.11,94.58 L335.72,96.90 L337.34,99.19 L338.95,101.44 L340.56,103.65 L342.17,105.83 L343.79,107.97 L345.40,110.08 L347.01,112.15 L348.63,114.18 L350.24,116.19 L351.85,118.16 L353.46,120.09 L355.08,122.00 L356.69,123.87 L358.30,125.71 L359.92,127.53 L361.53,129.31 L363.14,131.06 L364.76,132.79 L366.37,134.48 L367.98,136.15 L369.59,137.79 L371.21,139.40 L372.82,140.99 L374.43,142.55 L376.05,144.08 L377.66,145.59 L379.27,147.07 L380.88,148.53 L382.50,149.97 L384.11,151.38 L385.72,152.77 L387.34,154.13 L388.95,155.47 L390.56,156.79 L392.17,158.09 L393.79,159.37 L395.40,160.62 L397.01,161.86 L398.63,163.07 L400.24,164.27 L401.85,165.44 L403.47,166.60 L405.08,167.74 L406.69,168.85 L408.30,169.95 L409.92,171.03 L411.53,172.10 L413.14,173.14 L414.76,174.17 L416.37,175.18 L417.98,176.18 L419.59,177.15 L421.21,178.12 L422.82,179.06 L424.43,179.99 L426.05,180.91 L427.66,181.81 L429.27,182.69 L430.88,183.56 L432.50,184.42 L434.11,185.26 L435.72,186.09 L437.34,186.90 L438.95,187.70 L440.56,188.49 L442.18,189.26 L443.79,190.03 L445.40,190.78 L447.01,191.51 L448.63,192.24 L450.24,192.95 L451.85,193.65 L453.47,194.34 L455.08,195.02 L456.69,195.68 L458.30,196.34 L459.92,196.98 L461.53,197.62 L463.14,198.24 L464.76,198.86 L466.37,199.46 L467.98,200.05 L469.59,200.64 L471.21,201.21 L472.82,201.77 L474.43,202.33 L476.05,202.87 L477.66,203.41 L479.27,203.94 L480.89,204.46 L482.50,204.97 L484.11,205.47 L485.72,205.96 L487.34,206.45 L488.95,206.93" stroke="#6B3A62"/>
<path d="M295.40,223.87 L297.01,223.35 L298.63,222.81 L300.24,222.27 L301.85,221.72 L303.46,221.15 L305.08,220.58 L306.69,220.00 L308.30,219.41 L309.92,218.81 L311.53,218.21 L313.14,217.59 L314.75,216.96 L316.37,216.33 L317.98,215.68 L319.59,215.03 L321.21,214.36 L322.82,213.69 L324.43,213.01 L326.05,212.32 L327.66,211.62 L329.27,210.91 L330.88,210.19 L332.50,209.46 L334.11,208.72 L335.72,207.97 L337.34,207.22 L338.95,206.45 L340.56,205.68 L342.17,204.89 L343.79,204.10 L345.40,203.30 L347.01,202.49 L348.63,201.67 L350.24,200.84 L351.85,200.00 L353.46,199.15 L355.08,198.29 L356.69,197.42 L358.30,196.55 L359.92,195.66 L361.53,194.77 L363.14,193.86 L364.76,192.95 L366.37,192.03 L367.98,191.09 L369.59,190.15 L371.21,189.20 L372.82,188.24 L374.43,187.28 L376.05,186.30 L377.66,185.31 L379.27,184.31 L380.88,183.31 L382.50,182.29 L384.11,181.27 L385.72,180.23 L387.34,179.19 L388.95,178.14 L390.56,177.08 L392.17,176.01 L393.79,174.93 L395.40,173.84 L397.01,172.74 L398.63,171.63 L400.24,170.52 L401.85,169.39 L403.47,168.26 L405.08,167.11 L406.69,165.96 L408.30,164.79 L409.92,163.62 L411.53,162.44 L413.14,161.25 L414.76,160.05 L416.37,158.84 L417.98,157.62 L419.59,156.39 L421.21,155.16 L422.82,153.91 L424.43,152.65 L426.05,151.39 L427.66,150.12 L429.27,148.83 L430.88,147.54 L432.50,146.24 L434.11,144.93 L435.72,143.61 L437.34,142.28 L438.95,140.94 L440.56,139.59 L442.18,138.23 L443.79,136.87 L445.40,135.49 L447.01,134.11 L448.63,132.71 L450.24,131.31 L451.85,129.90 L453.47,128.47 L455.08,127.04 L456.69,125.60 L458.30,124.15 L459.92,122.69 L461.53,121.23 L463.14,119.75 L464.76,118.26 L466.37,116.77 L467.98,115.26 L469.59,113.75 L471.21,112.22 L472.82,110.69 L474.43,109.15 L476.05,107.60 L477.66,106.03 L479.27,104.46 L480.89,102.89 L482.50,101.30 L484.11,99.70 L485.72,98.09 L487.34,96.48 L488.95,94.85" stroke="#000" stroke-width="1.5" stroke-dasharray="19.8 6.7"/>
</g>
<g stroke="#000" fill="none" stroke-linecap="butt">
<path d="M291.70,23.85H493.10V239.10H291.70Z" stroke-width="1.5" stroke-linejoin="round"/>
<path d="M291.70,235.35h-4.80 M291.70,218.04h-2.80 M291.70,200.72h-4.80 M291.70,183.41h-2.80 M291.70,166.10h-4.80 M291.70,148.79h-2.80 M291.70,131.47h-4.80 M291.70,114.16h-2.80 M291.70,96.85h-4.80 M291.70,79.54h-2.80 M291.70,62.22h-4.80 M291.70,44.91h-2.80 M291.70,27.60h-4.80 M295.40,239.10v4.40 M305.08,239.10v2.70 M314.75,239.10v2.70 M324.43,239.10v2.70 M334.11,239.10v2.70 M343.79,239.10v4.40 M353.46,239.10v2.70 M363.14,239.10v2.70 M372.82,239.10v2.70 M382.50,239.10v2.70 M392.17,239.10v4.40 M401.85,239.10v2.70 M411.53,239.10v2.70 M421.21,239.10v2.70 M430.88,239.10v2.70 M440.56,239.10v4.40 M450.24,239.10v2.70 M459.92,239.10v2.70 M469.60,239.10v2.70 M479.27,239.10v2.70 M488.95,239.10v4.40" stroke-width="1.3"/>
</g>
<g font-family='"Liberation Serif", "Times New Roman", Times, serif' font-size="17.3" fill="#000">
<text transform="translate(287.00,242.35) scale(1,1.09)" text-anchor="end">0</text>
<text transform="translate(287.00,207.72) scale(1,1.09)" text-anchor="end">0.1</text>
<text transform="translate(287.00,173.10) scale(1,1.09)" text-anchor="end">0.2</text>
<text transform="translate(287.00,138.47) scale(1,1.09)" text-anchor="end">0.3</text>
<text transform="translate(287.00,103.85) scale(1,1.09)" text-anchor="end">0.4</text>
<text transform="translate(287.00,69.22) scale(1,1.09)" text-anchor="end">0.5</text>
<text transform="translate(287.00,34.60) scale(1,1.09)" text-anchor="end">0.6</text>
<text transform="translate(296.30,262.30) scale(1,1.09)" text-anchor="middle">0.5</text>
<text transform="translate(344.69,262.30) scale(1,1.09)" text-anchor="middle">1</text>
<text transform="translate(393.07,262.30) scale(1,1.09)" text-anchor="middle">1.5</text>
<text transform="translate(441.46,262.30) scale(1,1.09)" text-anchor="middle">2</text>
<text transform="translate(489.85,262.30) scale(1,1.09)" text-anchor="middle">2.5</text>
<text x="369.50" y="13.40" text-anchor="middle">(b) Gas pressure - 5 Pa</text>
</g>
</g>
<g id="panel-c">
<clipPath id="clipc"><rect x="50.00" y="298.70" width="201.40" height="214.50"/></clipPath>
<g clip-path="url(#clipc)" fill="none" stroke-width="1.4">
<path d="M53.90,288.52 L55.51,292.22 L57.13,295.88 L58.74,299.49 L60.35,303.06 L61.96,306.58 L63.58,310.05 L65.19,313.48 L66.80,316.87 L68.42,320.21 L70.03,323.51 L71.64,326.77 L73.25,329.98 L74.87,333.15 L76.48,336.27 L78.09,339.36 L79.71,342.40 L81.32,345.40 L82.93,348.36 L84.55,351.28 L86.16,354.15 L87.77,356.99 L89.38,359.79 L91.00,362.55 L92.61,365.26 L94.22,367.94 L95.84,370.58 L97.45,373.18 L99.06,375.75 L100.67,378.27 L102.29,380.76 L103.90,383.21 L105.51,385.63 L107.13,388.01 L108.74,390.35 L110.35,392.67 L111.97,394.99 L113.58,397.27 L115.19,399.51 L116.80,401.73 L118.42,403.90 L120.03,406.05 L121.64,408.16 L123.26,410.23 L124.87,412.27 L126.48,414.28 L128.09,416.26 L129.71,418.20 L131.32,420.11 L132.93,422.00 L134.55,423.84 L136.16,425.66 L137.77,427.45 L139.38,429.21 L141.00,430.93 L142.61,432.63 L144.22,434.30 L145.84,435.94 L147.45,437.55 L149.06,439.13 L150.67,440.69 L152.29,442.21 L153.90,443.71 L155.51,445.18 L157.13,446.63 L158.74,448.05 L160.35,449.44 L161.97,450.81 L163.58,452.15 L165.19,453.47 L166.80,454.76 L168.42,456.03 L170.03,457.27 L171.64,458.49 L173.26,459.69 L174.87,460.86 L176.48,462.01 L178.09,463.14 L179.71,464.24 L181.32,465.33 L182.93,466.39 L184.55,467.43 L186.16,468.45 L187.77,469.45 L189.38,470.43 L191.00,471.39 L192.61,472.33 L194.22,473.25 L195.84,474.16 L197.45,475.04 L199.06,475.90 L200.68,476.75 L202.29,477.58 L203.90,478.39 L205.51,479.18 L207.13,479.96 L208.74,480.72 L210.35,481.46 L211.97,482.19 L213.58,482.90 L215.19,483.59 L216.80,484.27 L218.42,484.94 L220.03,485.59 L221.64,486.22 L223.26,486.84 L224.87,487.45 L226.48,488.04 L228.09,488.62 L229.71,489.19 L231.32,489.74 L232.93,490.28 L234.55,490.81 L236.16,491.32 L237.77,491.83 L239.39,492.32 L241.00,492.80 L242.61,493.26 L244.22,493.72 L245.84,494.17 L247.45,494.60" stroke="#E5702A"/>
<path d="M53.90,290.49 L55.51,294.15 L57.13,297.76 L58.74,301.33 L60.35,304.85 L61.96,308.32 L63.58,311.75 L65.19,315.13 L66.80,318.46 L68.42,321.75 L70.03,324.99 L71.64,328.19 L73.25,331.35 L74.87,334.46 L76.48,337.53 L78.09,340.55 L79.71,343.53 L81.32,346.47 L82.93,349.37 L84.55,352.23 L86.16,355.05 L87.77,357.82 L89.38,360.56 L91.00,363.25 L92.61,365.91 L94.22,368.53 L95.84,371.11 L97.45,373.65 L99.06,376.15 L100.67,378.62 L102.29,381.05 L103.90,383.44 L105.51,385.79 L107.13,388.11 L108.74,390.40 L110.35,392.65 L111.97,394.89 L113.58,397.10 L115.19,399.27 L116.80,401.41 L118.42,403.52 L120.03,405.59 L121.64,407.63 L123.26,409.63 L124.87,411.61 L126.48,413.55 L128.09,415.46 L129.71,417.34 L131.32,419.19 L132.93,421.01 L134.55,422.80 L136.16,424.56 L137.77,426.29 L139.38,427.99 L141.00,429.66 L142.61,431.31 L144.22,432.93 L145.84,434.52 L147.45,436.08 L149.06,437.61 L150.67,439.12 L152.29,440.60 L153.90,442.06 L155.51,443.49 L157.13,444.90 L158.74,446.28 L160.35,447.63 L161.97,448.96 L163.58,450.27 L165.19,451.56 L166.80,452.82 L168.42,454.06 L170.03,455.27 L171.64,456.47 L173.26,457.64 L174.87,458.79 L176.48,459.91 L178.09,461.02 L179.71,462.11 L181.32,463.17 L182.93,464.22 L184.55,465.24 L186.16,466.25 L187.77,467.24 L189.38,468.20 L191.00,469.15 L192.61,470.08 L194.22,471.00 L195.84,471.89 L197.45,472.77 L199.06,473.62 L200.68,474.47 L202.29,475.29 L203.90,476.10 L205.51,476.89 L207.13,477.67 L208.74,478.43 L210.35,479.17 L211.97,479.90 L213.58,480.62 L215.19,481.32 L216.80,482.00 L218.42,482.67 L220.03,483.33 L221.64,483.97 L223.26,484.60 L224.87,485.22 L226.48,485.82 L228.09,486.41 L229.71,486.99 L231.32,487.56 L232.93,488.11 L234.55,488.65 L236.16,489.18 L237.77,489.70 L239.39,490.20 L241.00,490.70 L242.61,491.18 L244.22,491.65 L245.84,492.11 L247.45,492.57" stroke="#EE9030"/>
<path d="M53.90,294.71 L55.51,298.28 L57.13,301.80 L58.74,305.27 L60.35,308.69 L61.96,312.06 L63.58,315.38 L65.19,318.65 L66.80,321.88 L68.42,325.05 L70.03,328.18 L71.64,331.26 L73.25,334.29 L74.87,337.28 L76.48,340.22 L78.09,343.12 L79.71,345.98 L81.32,348.79 L82.93,351.56 L84.55,354.28 L86.16,356.97 L87.77,359.61 L89.38,362.22 L91.00,364.78 L92.61,367.31 L94.22,369.79 L95.84,372.24 L97.45,374.65 L99.06,377.02 L100.67,379.36 L102.29,381.66 L103.90,383.92 L105.51,386.15 L107.13,388.34 L108.74,390.50 L110.35,392.61 L111.97,394.65 L113.58,396.66 L115.19,398.63 L116.80,400.57 L118.42,402.48 L120.03,404.36 L121.64,406.21 L123.26,408.03 L124.87,409.82 L126.48,411.59 L128.09,413.32 L129.71,415.02 L131.32,416.70 L132.93,418.35 L134.55,419.97 L136.16,421.57 L137.77,423.14 L139.38,424.68 L141.00,426.20 L142.61,427.69 L144.22,429.16 L145.84,430.61 L147.45,432.03 L149.06,433.43 L150.67,434.80 L152.29,436.15 L153.90,437.48 L155.51,438.79 L157.13,440.07 L158.74,441.33 L160.35,442.58 L161.97,443.80 L163.58,445.00 L165.19,446.18 L166.80,447.34 L168.42,448.48 L170.03,449.60 L171.64,450.71 L173.26,451.79 L174.87,452.86 L176.48,453.90 L178.09,454.93 L179.71,455.95 L181.32,456.94 L182.93,457.92 L184.55,458.88 L186.16,459.83 L187.77,460.75 L189.38,461.67 L191.00,462.56 L192.61,463.44 L194.22,464.31 L195.84,465.16 L197.45,466.00 L199.06,466.82 L200.68,467.63 L202.29,468.42 L203.90,469.20 L205.51,469.97 L207.13,470.72 L208.74,471.46 L210.35,472.19 L211.97,472.90 L213.58,473.60 L215.19,474.29 L216.80,474.97 L218.42,475.63 L220.03,476.28 L221.64,476.92 L223.26,477.55 L224.87,478.17 L226.48,478.78 L228.09,479.38 L229.71,479.96 L231.32,480.54 L232.93,481.10 L234.55,481.66 L236.16,482.20 L237.77,482.74 L239.39,483.26 L241.00,483.78 L242.61,484.29 L244.22,484.78 L245.84,485.27 L247.45,485.75" stroke="#60BEC0"/>
<path d="M53.90,292.66 L55.51,296.28 L57.13,299.85 L58.74,303.36 L60.35,306.83 L61.96,310.25 L63.58,313.62 L65.19,316.95 L66.80,320.22 L68.42,323.45 L70.03,326.63 L71.64,329.77 L73.25,332.86 L74.87,335.91 L76.48,338.92 L78.09,341.88 L79.71,344.79 L81.32,347.67 L82.93,350.50 L84.55,353.29 L86.16,356.04 L87.77,358.75 L89.38,361.41 L91.00,364.04 L92.61,366.63 L94.22,369.18 L95.84,371.69 L97.45,374.16 L99.06,376.60 L100.67,379.00 L102.29,381.36 L103.90,383.69 L105.51,385.98 L107.13,388.23 L108.74,390.45 L110.35,392.63 L111.97,394.74 L113.58,396.81 L115.19,398.86 L116.80,400.87 L118.42,402.85 L120.03,404.79 L121.64,406.71 L123.26,408.60 L124.87,410.45 L126.48,412.28 L128.09,414.07 L129.71,415.84 L131.32,417.58 L132.93,419.29 L134.55,420.97 L136.16,422.62 L137.77,424.25 L139.38,425.85 L141.00,427.43 L142.61,428.97 L144.22,430.50 L145.84,431.99 L147.45,433.47 L149.06,434.91 L150.67,436.34 L152.29,437.74 L153.90,439.11 L155.51,440.46 L157.13,441.79 L158.74,443.10 L160.35,444.39 L161.97,445.65 L163.58,446.89 L165.19,448.11 L166.80,449.31 L168.42,450.49 L170.03,451.65 L171.64,452.78 L173.26,453.90 L174.87,455.00 L176.48,456.08 L178.09,457.14 L179.71,458.18 L181.32,459.21 L182.93,460.21 L184.55,461.20 L186.16,462.17 L187.77,463.12 L189.38,464.06 L191.00,464.98 L192.61,465.88 L194.22,466.77 L195.84,467.64 L197.45,468.49 L199.06,469.33 L200.68,470.15 L202.29,470.96 L203.90,471.76 L205.51,472.54 L207.13,473.30 L208.74,474.05 L210.35,474.79 L211.97,475.51 L213.58,476.22 L215.19,476.92 L216.80,477.60 L218.42,478.28 L220.03,478.93 L221.64,479.58 L223.26,480.22 L224.87,480.84 L226.48,481.45 L228.09,482.05 L229.71,482.63 L231.32,483.21 L232.93,483.77 L234.55,484.33 L236.16,484.87 L237.77,485.41 L239.39,485.93 L241.00,486.44 L242.61,486.94 L244.22,487.44 L245.84,487.92 L247.45,488.39" stroke="#0AA540"/>
<path d="M53.90,297.07 L55.51,300.59 L57.13,304.06 L58.74,307.48 L60.35,310.84 L61.96,314.16 L63.58,317.42 L65.19,320.63 L66.80,323.79 L68.42,326.90 L70.03,329.96 L71.64,332.97 L73.25,335.94 L74.87,338.86 L76.48,341.73 L78.09,344.56 L79.71,347.35 L81.32,350.09 L82.93,352.78 L84.55,355.44 L86.16,358.05 L87.77,360.62 L89.38,363.15 L91.00,365.64 L92.61,368.10 L94.22,370.51 L95.84,372.88 L97.45,375.22 L99.06,377.52 L100.67,379.78 L102.29,382.00 L103.90,384.19 L105.51,386.35 L107.13,388.47 L108.74,390.56 L110.35,392.61 L111.97,394.62 L113.58,396.59 L115.19,398.54 L116.80,400.45 L118.42,402.34 L120.03,404.19 L121.64,406.01 L123.26,407.81 L124.87,409.57 L126.48,411.30 L128.09,413.01 L129.71,414.69 L131.32,416.34 L132.93,417.97 L134.55,419.56 L136.16,421.14 L137.77,422.68 L139.38,424.20 L141.00,425.70 L142.61,427.17 L144.22,428.62 L145.84,430.04 L147.45,431.44 L149.06,432.81 L150.67,434.17 L152.29,435.50 L153.90,436.81 L155.51,438.09 L157.13,439.36 L158.74,440.60 L160.35,441.83 L161.97,443.03 L163.58,444.22 L165.19,445.38 L166.80,446.52 L168.42,447.65 L170.03,448.75 L171.64,449.84 L173.26,450.91 L174.87,451.96 L176.48,453.00 L178.09,454.01 L179.71,455.01 L181.32,455.99 L182.93,456.96 L184.55,457.91 L186.16,458.84 L187.77,459.76 L189.38,460.66 L191.00,461.55 L192.61,462.42 L194.22,463.28 L195.84,464.12 L197.45,464.95 L199.06,465.76 L200.68,466.56 L202.29,467.34 L203.90,468.12 L205.51,468.87 L207.13,469.62 L208.74,470.35 L210.35,471.07 L211.97,471.78 L213.58,472.48 L215.19,473.16 L216.80,473.83 L218.42,474.49 L220.03,475.14 L221.64,475.78 L223.26,476.41 L224.87,477.02 L226.48,477.63 L228.09,478.22 L229.71,478.81 L231.32,479.38 L232.93,479.94 L234.55,480.50 L236.16,481.04 L237.77,481.58 L239.39,482.10 L241.00,482.62 L242.61,483.12 L244.22,483.62 L245.84,484.11 L247.45,484.59" stroke="#2C46A0"/>
<path d="M53.90,299.84 L55.51,303.31 L57.13,306.72 L58.74,310.08 L60.35,313.37 L61.96,316.62 L63.58,319.81 L65.19,322.95 L66.80,326.04 L68.42,329.07 L70.03,332.06 L71.64,334.99 L73.25,337.88 L74.87,340.72 L76.48,343.51 L78.09,346.26 L79.71,348.96 L81.32,351.62 L82.93,354.23 L84.55,356.80 L86.16,359.33 L87.77,361.81 L89.38,364.26 L91.00,366.66 L92.61,369.03 L94.22,371.35 L95.84,373.64 L97.45,375.89 L99.06,378.10 L100.67,380.27 L102.29,382.41 L103.90,384.52 L105.51,386.59 L107.13,388.62 L108.74,390.62 L110.35,392.59 L111.97,394.53 L113.58,396.43 L115.19,398.30 L116.80,400.14 L118.42,401.95 L120.03,403.74 L121.64,405.49 L123.26,407.21 L124.87,408.90 L126.48,410.57 L128.09,412.21 L129.71,413.82 L131.32,415.40 L132.93,416.96 L134.55,418.50 L136.16,420.00 L137.77,421.49 L139.38,422.94 L141.00,424.38 L142.61,425.79 L144.22,427.17 L145.84,428.54 L147.45,429.88 L149.06,431.20 L150.67,432.50 L152.29,433.77 L153.90,435.03 L155.51,436.26 L157.13,437.48 L158.74,438.67 L160.35,439.84 L161.97,441.00 L163.58,442.13 L165.19,443.25 L166.80,444.35 L168.42,445.43 L170.03,446.49 L171.64,447.54 L173.26,448.56 L174.87,449.57 L176.48,450.57 L178.09,451.55 L179.71,452.51 L181.32,453.45 L182.93,454.38 L184.55,455.30 L186.16,456.20 L187.77,457.08 L189.38,457.95 L191.00,458.80 L192.61,459.65 L194.22,460.47 L195.84,461.29 L197.45,462.09 L199.06,462.87 L200.68,463.65 L202.29,464.41 L203.90,465.16 L205.51,465.89 L207.13,466.62 L208.74,467.33 L210.35,468.03 L211.97,468.72 L213.58,469.40 L215.19,470.06 L216.80,470.72 L218.42,471.36 L220.03,472.00 L221.64,472.62 L223.26,473.23 L224.87,473.83 L226.48,474.43 L228.09,475.01 L229.71,475.58 L231.32,476.15 L232.93,476.70 L234.55,477.25 L236.16,477.78 L237.77,478.31 L239.39,478.83 L241.00,479.34 L242.61,479.84 L244.22,480.34 L245.84,480.82 L247.45,481.30" stroke="#6B3A62"/>
<path d="M53.90,477.57 L55.38,475.78 L56.85,473.95 L58.33,472.07 L59.80,470.14 L61.28,468.16 L62.76,466.13 L64.23,464.06 L65.71,461.94 L67.19,459.77 L68.66,457.56 L70.14,455.29 L71.61,452.98 L73.09,450.62 L74.57,448.21 L76.04,445.76 L77.52,443.25 L79.00,440.70 L80.47,438.10 L81.95,435.46 L83.42,432.76 L84.90,430.02 L86.38,427.23 L87.85,424.40 L89.33,421.51 L90.81,418.58 L92.28,415.60 L93.76,412.57 L95.23,409.49 L96.71,406.37 L98.19,403.20 L99.66,399.98 L101.14,396.71 L102.62,393.40 L104.09,390.04 L105.57,386.63 L107.04,383.17 L108.52,379.66 L110.00,376.11 L111.47,372.51 L112.95,368.86 L114.43,365.16 L115.90,361.42 L117.38,357.63 L118.85,353.79 L120.33,349.90 L121.81,345.96 L123.28,341.98 L124.76,337.95 L126.24,333.87 L127.71,329.74 L129.19,325.57 L130.66,321.35 L132.14,317.08 L133.62,312.76 L135.09,308.40 L136.57,303.98 L138.05,299.52 L139.52,295.01 L141.00,290.46" stroke="#000" stroke-width="1.5" stroke-dasharray="19.8 6.7"/>
</g>
<g stroke="#000" fill="none" stroke-linecap="butt">
<path d="M50.00,298.20H251.40V513.20H50.00Z" stroke-width="1.5" stroke-linejoin="round"/>
<path d="M50.00,509.70h-4.80 M50.00,492.40h-2.80 M50.00,475.10h-4.80 M50.00,457.80h-2.80 M50.00,440.50h-4.80 M50.00,423.20h-2.80 M50.00,405.90h-4.80 M50.00,388.60h-2.80 M50.00,371.30h-4.80 M50.00,354.00h-2.80 M50.00,336.70h-4.80 M50.00,319.40h-2.80 M50.00,302.10h-4.80 M53.90,513.20v4.40 M63.58,513.20v2.70 M73.25,513.20v2.70 M82.93,513.20v2.70 M92.61,513.20v2.70 M102.29,513.20v4.40 M111.97,513.20v2.70 M121.64,513.20v2.70 M131.32,513.20v2.70 M141.00,513.20v2.70 M150.67,513.20v4.40 M160.35,513.20v2.70 M170.03,513.20v2.70 M179.71,513.20v2.70 M189.39,513.20v2.70 M199.06,513.20v4.40 M208.74,513.20v2.70 M218.42,513.20v2.70 M228.10,513.20v2.70 M237.77,513.20v2.70 M247.45,513.20v4.40" stroke-width="1.3"/>
</g>
<g font-family='"Liberation Serif", "Times New Roman", Times, serif' font-size="17.3" fill="#000">
<text transform="translate(45.30,516.70) scale(1,1.09)" text-anchor="end">0</text>
<text transform="translate(45.30,482.10) scale(1,1.09)" text-anchor="end">0.1</text>
<text transform="translate(45.30,447.50) scale(1,1.09)" text-anchor="end">0.2</text>
<text transform="translate(45.30,412.90) scale(1,1.09)" text-anchor="end">0.3</text>
<text transform="translate(45.30,378.30) scale(1,1.09)" text-anchor="end">0.4</text>
<text transform="translate(45.30,343.70) scale(1,1.09)" text-anchor="end">0.5</text>
<text transform="translate(45.30,309.10) scale(1,1.09)" text-anchor="end">0.6</text>
<text transform="translate(54.80,536.40) scale(1,1.09)" text-anchor="middle">0.5</text>
<text transform="translate(103.19,536.40) scale(1,1.09)" text-anchor="middle">1</text>
<text transform="translate(151.57,536.40) scale(1,1.09)" text-anchor="middle">1.5</text>
<text transform="translate(199.96,536.40) scale(1,1.09)" text-anchor="middle">2</text>
<text transform="translate(248.35,536.40) scale(1,1.09)" text-anchor="middle">2.5</text>
<text x="129.00" y="287.80" text-anchor="middle">(c) Gas pressure - 30 Pa</text>
<text transform="translate(151.37,552.50) scale(1,1.06)" text-anchor="middle">z</text>
<g transform="translate(11.6,417.50) scale(1,1.15) rotate(-90)"><text x="1.3" y="-0.6" font-style="italic" font-size="17">j</text><text x="4.6" y="7.6" font-style="italic" font-size="13.2">i,</text><text x="15.4" y="7.6" font-style="italic" font-size="13.2">e</text></g>
</g>
</g>
<g id="panel-d">
<clipPath id="clipd"><rect x="292.00" y="299.20" width="201.35" height="214.60"/></clipPath>
<g clip-path="url(#clipd)" fill="none" stroke-width="1.4">
<path d="M295.80,288.82 L297.41,292.52 L299.02,296.18 L300.63,299.79 L302.24,303.36 L303.85,306.88 L305.46,310.35 L307.07,313.78 L308.68,317.17 L310.29,320.51 L311.90,323.81 L313.51,327.07 L315.12,330.28 L316.74,333.45 L318.35,336.57 L319.96,339.66 L321.57,342.70 L323.18,345.70 L324.79,348.66 L326.40,351.58 L328.01,354.45 L329.62,357.29 L331.23,360.09 L332.84,362.85 L334.45,365.56 L336.06,368.24 L337.67,370.88 L339.28,373.48 L340.89,376.05 L342.50,378.57 L344.11,381.06 L345.72,383.51 L347.33,385.93 L348.94,388.31 L350.55,390.65 L352.16,392.97 L353.78,395.29 L355.39,397.57 L357.00,399.81 L358.61,402.03 L360.22,404.20 L361.83,406.35 L363.44,408.46 L365.05,410.53 L366.66,412.57 L368.27,414.58 L369.88,416.56 L371.49,418.50 L373.10,420.41 L374.71,422.30 L376.32,424.14 L377.93,425.96 L379.54,427.75 L381.15,429.51 L382.76,431.23 L384.37,432.93 L385.98,434.60 L387.59,436.24 L389.20,437.85 L390.81,439.43 L392.43,440.99 L394.04,442.51 L395.65,444.01 L397.26,445.48 L398.87,446.93 L400.48,448.35 L402.09,449.74 L403.70,451.11 L405.31,452.45 L406.92,453.77 L408.53,455.06 L410.14,456.33 L411.75,457.57 L413.36,458.79 L414.97,459.99 L416.58,461.16 L418.19,462.31 L419.80,463.44 L421.41,464.54 L423.02,465.63 L424.63,466.69 L426.24,467.73 L427.85,468.75 L429.46,469.75 L431.07,470.73 L432.69,471.69 L434.30,472.63 L435.91,473.55 L437.52,474.46 L439.13,475.34 L440.74,476.20 L442.35,477.05 L443.96,477.88 L445.57,478.69 L447.18,479.48 L448.79,480.26 L450.40,481.02 L452.01,481.76 L453.62,482.49 L455.23,483.20 L456.84,483.89 L458.45,484.57 L460.06,485.24 L461.67,485.89 L463.28,486.52 L464.89,487.14 L466.50,487.75 L468.11,488.34 L469.73,488.92 L471.34,489.49 L472.95,490.04 L474.56,490.58 L476.17,491.11 L477.78,491.62 L479.39,492.13 L481.00,492.62 L482.61,493.10 L484.22,493.56 L485.83,494.02 L487.44,494.47 L489.05,494.90" stroke="#E5702A"/>
<path d="M295.80,290.79 L297.41,294.45 L299.02,298.06 L300.63,301.63 L302.24,305.15 L303.85,308.62 L305.46,312.05 L307.07,315.43 L308.68,318.76 L310.29,322.05 L311.90,325.29 L313.51,328.49 L315.12,331.65 L316.74,334.76 L318.35,337.83 L319.96,340.85 L321.57,343.83 L323.18,346.77 L324.79,349.67 L326.40,352.53 L328.01,355.35 L329.62,358.12 L331.23,360.86 L332.84,363.55 L334.45,366.21 L336.06,368.83 L337.67,371.41 L339.28,373.95 L340.89,376.45 L342.50,378.92 L344.11,381.35 L345.72,383.74 L347.33,386.09 L348.94,388.41 L350.55,390.70 L352.16,392.94 L353.78,395.14 L355.39,397.30 L357.00,399.43 L358.61,401.52 L360.22,403.58 L361.83,405.61 L363.44,407.61 L365.05,409.57 L366.66,411.51 L368.27,413.41 L369.88,415.28 L371.49,417.12 L373.10,418.93 L374.71,420.72 L376.32,422.47 L377.93,424.19 L379.54,425.89 L381.15,427.55 L382.76,429.19 L384.37,430.80 L385.98,432.39 L387.59,433.95 L389.20,435.48 L390.81,436.98 L392.43,438.46 L394.04,439.92 L395.65,441.35 L397.26,442.75 L398.87,444.13 L400.48,445.49 L402.09,446.82 L403.70,448.13 L405.31,449.42 L406.92,450.68 L408.53,451.92 L410.14,453.14 L411.75,454.34 L413.36,455.51 L414.97,456.67 L416.58,457.80 L418.19,458.91 L419.80,460.01 L421.41,461.08 L423.02,462.13 L424.63,463.16 L426.24,464.18 L427.85,465.17 L429.46,466.15 L431.07,467.11 L432.69,468.05 L434.30,468.97 L435.91,469.87 L437.52,470.76 L439.13,471.63 L440.74,472.49 L442.35,473.32 L443.96,474.14 L445.57,474.95 L447.18,475.74 L448.79,476.51 L450.40,477.27 L452.01,478.02 L453.62,478.75 L455.23,479.46 L456.84,480.16 L458.45,480.85 L460.06,481.52 L461.67,482.18 L463.28,482.82 L464.89,483.46 L466.50,484.08 L468.11,484.68 L469.73,485.28 L471.34,485.86 L472.95,486.43 L474.56,486.99 L476.17,487.54 L477.78,488.07 L479.39,488.60 L481.00,489.11 L482.61,489.61 L484.22,490.10 L485.83,490.59 L487.44,491.06 L489.05,491.52" stroke="#EE9030"/>
<path d="M295.80,295.01 L297.41,298.58 L299.02,302.10 L300.63,305.57 L302.24,308.99 L303.85,312.36 L305.46,315.68 L307.07,318.95 L308.68,322.18 L310.29,325.35 L311.90,328.48 L313.51,331.56 L315.12,334.59 L316.74,337.58 L318.35,340.52 L319.96,343.42 L321.57,346.28 L323.18,349.09 L324.79,351.86 L326.40,354.58 L328.01,357.27 L329.62,359.91 L331.23,362.52 L332.84,365.08 L334.45,367.61 L336.06,370.09 L337.67,372.54 L339.28,374.95 L340.89,377.32 L342.50,379.66 L344.11,381.96 L345.72,384.22 L347.33,386.45 L348.94,388.64 L350.55,390.80 L352.16,392.91 L353.78,394.92 L355.39,396.91 L357.00,398.86 L358.61,400.78 L360.22,402.67 L361.83,404.53 L363.44,406.36 L365.05,408.16 L366.66,409.93 L368.27,411.68 L369.88,413.39 L371.49,415.07 L373.10,416.73 L374.71,418.36 L376.32,419.97 L377.93,421.55 L379.54,423.10 L381.15,424.62 L382.76,426.13 L384.37,427.60 L385.98,429.05 L387.59,430.48 L389.20,431.89 L390.81,433.27 L392.43,434.63 L394.04,435.96 L395.65,437.28 L397.26,438.57 L398.87,439.84 L400.48,441.09 L402.09,442.32 L403.70,443.53 L405.31,444.71 L406.92,445.88 L408.53,447.03 L410.14,448.16 L411.75,449.27 L413.36,450.36 L414.97,451.44 L416.58,452.49 L418.19,453.53 L419.80,454.55 L421.41,455.55 L423.02,456.54 L424.63,457.50 L426.24,458.46 L427.85,459.39 L429.46,460.31 L431.07,461.22 L432.69,462.11 L434.30,462.98 L435.91,463.84 L437.52,464.68 L439.13,465.51 L440.74,466.33 L442.35,467.13 L443.96,467.92 L445.57,468.69 L447.18,469.45 L448.79,470.20 L450.40,470.94 L452.01,471.66 L453.62,472.37 L455.23,473.07 L456.84,473.75 L458.45,474.42 L460.06,475.09 L461.67,475.74 L463.28,476.37 L464.89,477.00 L466.50,477.62 L468.11,478.22 L469.73,478.82 L471.34,479.40 L472.95,479.98 L474.56,480.54 L476.17,481.10 L477.78,481.64 L479.39,482.17 L481.00,482.70 L482.61,483.22 L484.22,483.72 L485.83,484.22 L487.44,484.71 L489.05,485.19" stroke="#60BEC0"/>
<path d="M295.80,292.96 L297.41,296.58 L299.02,300.15 L300.63,303.66 L302.24,307.13 L303.85,310.55 L305.46,313.92 L307.07,317.25 L308.68,320.52 L310.29,323.75 L311.90,326.93 L313.51,330.07 L315.12,333.16 L316.74,336.21 L318.35,339.22 L319.96,342.18 L321.57,345.09 L323.18,347.97 L324.79,350.80 L326.40,353.59 L328.01,356.34 L329.62,359.05 L331.23,361.71 L332.84,364.34 L334.45,366.93 L336.06,369.48 L337.67,371.99 L339.28,374.46 L340.89,376.90 L342.50,379.30 L344.11,381.66 L345.72,383.99 L347.33,386.28 L348.94,388.53 L350.55,390.75 L352.16,392.92 L353.78,394.99 L355.39,397.03 L357.00,399.04 L358.61,401.01 L360.22,402.95 L361.83,404.87 L363.44,406.75 L365.05,408.60 L366.66,410.42 L368.27,412.21 L369.88,413.97 L371.49,415.71 L373.10,417.41 L374.71,419.09 L376.32,420.74 L377.93,422.37 L379.54,423.96 L381.15,425.53 L382.76,427.08 L384.37,428.60 L385.98,430.09 L387.59,431.56 L389.20,433.01 L390.81,434.43 L392.43,435.83 L394.04,437.20 L395.65,438.55 L397.26,439.88 L398.87,441.19 L400.48,442.47 L402.09,443.73 L403.70,444.98 L405.31,446.20 L406.92,447.39 L408.53,448.57 L410.14,449.73 L411.75,450.87 L413.36,451.99 L414.97,453.09 L416.58,454.17 L418.19,455.24 L419.80,456.28 L421.41,457.31 L423.02,458.32 L424.63,459.31 L426.24,460.28 L427.85,461.24 L429.46,462.18 L431.07,463.11 L432.69,464.01 L434.30,464.91 L435.91,465.78 L437.52,466.64 L439.13,467.49 L440.74,468.32 L442.35,469.14 L443.96,469.94 L445.57,470.72 L447.18,471.50 L448.79,472.26 L450.40,473.00 L452.01,473.73 L453.62,474.45 L455.23,475.16 L456.84,475.85 L458.45,476.53 L460.06,477.20 L461.67,477.86 L463.28,478.50 L464.89,479.13 L466.50,479.75 L468.11,480.36 L469.73,480.96 L471.34,481.55 L472.95,482.13 L474.56,482.69 L476.17,483.25 L477.78,483.79 L479.39,484.33 L481.00,484.85 L482.61,485.37 L484.22,485.87 L485.83,486.37 L487.44,486.86 L489.05,487.33" stroke="#0AA540"/>
<path d="M295.80,297.37 L297.41,300.89 L299.02,304.36 L300.63,307.78 L302.24,311.14 L303.85,314.46 L305.46,317.72 L307.07,320.93 L308.68,324.09 L310.29,327.20 L311.90,330.26 L313.51,333.27 L315.12,336.24 L316.74,339.16 L318.35,342.03 L319.96,344.86 L321.57,347.65 L323.18,350.39 L324.79,353.08 L326.40,355.74 L328.01,358.35 L329.62,360.92 L331.23,363.45 L332.84,365.94 L334.45,368.40 L336.06,370.81 L337.67,373.18 L339.28,375.52 L340.89,377.82 L342.50,380.08 L344.11,382.30 L345.72,384.49 L347.33,386.65 L348.94,388.77 L350.55,390.86 L352.16,392.90 L353.78,394.88 L355.39,396.84 L357.00,398.76 L358.61,400.65 L360.22,402.50 L361.83,404.33 L363.44,406.13 L365.05,407.90 L366.66,409.64 L368.27,411.35 L369.88,413.03 L371.49,414.69 L373.10,416.32 L374.71,417.92 L376.32,419.49 L377.93,421.04 L379.54,422.57 L381.15,424.07 L382.76,425.54 L384.37,426.99 L385.98,428.42 L387.59,429.82 L389.20,431.20 L390.81,432.55 L392.43,433.89 L394.04,435.20 L395.65,436.49 L397.26,437.76 L398.87,439.01 L400.48,440.24 L402.09,441.44 L403.70,442.63 L405.31,443.80 L406.92,444.94 L408.53,446.07 L410.14,447.18 L411.75,448.27 L413.36,449.35 L414.97,450.40 L416.58,451.44 L418.19,452.46 L419.80,453.46 L421.41,454.45 L423.02,455.42 L424.63,456.37 L426.24,457.31 L427.85,458.23 L429.46,459.14 L431.07,460.03 L432.69,460.91 L434.30,461.77 L435.91,462.62 L437.52,463.45 L439.13,464.27 L440.74,465.07 L442.35,465.86 L443.96,466.64 L445.57,467.41 L447.18,468.16 L448.79,468.90 L450.40,469.62 L452.01,470.34 L453.62,471.04 L455.23,471.73 L456.84,472.41 L458.45,473.08 L460.06,473.73 L461.67,474.38 L463.28,475.01 L464.89,475.63 L466.50,476.24 L468.11,476.85 L469.73,477.44 L471.34,478.02 L472.95,478.59 L474.56,479.15 L476.17,479.70 L477.78,480.24 L479.39,480.78 L481.00,481.30 L482.61,481.82 L484.22,482.32 L485.83,482.82 L487.44,483.31 L489.05,483.79" stroke="#2C46A0"/>
<path d="M295.80,300.14 L297.41,303.61 L299.02,307.02 L300.63,310.38 L302.24,313.67 L303.85,316.92 L305.46,320.11 L307.07,323.25 L308.68,326.34 L310.29,329.37 L311.90,332.36 L313.51,335.29 L315.12,338.18 L316.74,341.02 L318.35,343.81 L319.96,346.56 L321.57,349.26 L323.18,351.92 L324.79,354.53 L326.40,357.10 L328.01,359.63 L329.62,362.11 L331.23,364.56 L332.84,366.96 L334.45,369.33 L336.06,371.65 L337.67,373.94 L339.28,376.19 L340.89,378.40 L342.50,380.57 L344.11,382.71 L345.72,384.82 L347.33,386.89 L348.94,388.92 L350.55,390.92 L352.16,392.89 L353.78,394.83 L355.39,396.73 L357.00,398.60 L358.61,400.44 L360.22,402.25 L361.83,404.04 L363.44,405.79 L365.05,407.51 L366.66,409.20 L368.27,410.87 L369.88,412.51 L371.49,414.12 L373.10,415.70 L374.71,417.26 L376.32,418.80 L377.93,420.30 L379.54,421.79 L381.15,423.24 L382.76,424.68 L384.37,426.09 L385.98,427.47 L387.59,428.84 L389.20,430.18 L390.81,431.50 L392.43,432.80 L394.04,434.07 L395.65,435.33 L397.26,436.56 L398.87,437.78 L400.48,438.97 L402.09,440.14 L403.70,441.30 L405.31,442.43 L406.92,443.55 L408.53,444.65 L410.14,445.73 L411.75,446.79 L413.36,447.84 L414.97,448.86 L416.58,449.87 L418.19,450.87 L419.80,451.85 L421.41,452.81 L423.02,453.75 L424.63,454.68 L426.24,455.60 L427.85,456.50 L429.46,457.38 L431.07,458.25 L432.69,459.10 L434.30,459.95 L435.91,460.77 L437.52,461.59 L439.13,462.39 L440.74,463.17 L442.35,463.95 L443.96,464.71 L445.57,465.46 L447.18,466.19 L448.79,466.92 L450.40,467.63 L452.01,468.33 L453.62,469.02 L455.23,469.70 L456.84,470.36 L458.45,471.02 L460.06,471.66 L461.67,472.30 L463.28,472.92 L464.89,473.53 L466.50,474.13 L468.11,474.73 L469.73,475.31 L471.34,475.88 L472.95,476.45 L474.56,477.00 L476.17,477.55 L477.78,478.08 L479.39,478.61 L481.00,479.13 L482.61,479.64 L484.22,480.14 L485.83,480.64 L487.44,481.12 L489.05,481.60" stroke="#6B3A62"/>
<path d="M295.80,401.70 L296.80,397.30 L297.81,392.81 L298.81,388.24 L299.82,383.57 L300.82,378.82 L301.83,373.98 L302.83,369.06 L303.84,364.04 L304.84,358.94 L305.84,353.75 L306.85,348.48 L307.85,343.11 L308.86,337.66 L309.86,332.12 L310.87,326.49 L311.87,320.78 L312.87,314.98 L313.88,309.09 L314.88,303.11" stroke="#000" stroke-width="1.5" stroke-dasharray="19.8 6.7"/>
</g>
<g stroke="#000" fill="none" stroke-linecap="butt">
<path d="M292.00,298.70H493.35V513.80H292.00Z" stroke-width="1.5" stroke-linejoin="round"/>
<path d="M292.00,510.00h-4.80 M292.00,492.70h-2.80 M292.00,475.40h-4.80 M292.00,458.10h-2.80 M292.00,440.80h-4.80 M292.00,423.50h-2.80 M292.00,406.20h-4.80 M292.00,388.90h-2.80 M292.00,371.60h-4.80 M292.00,354.30h-2.80 M292.00,337.00h-4.80 M292.00,319.70h-2.80 M292.00,302.40h-4.80 M295.80,513.80v4.40 M305.46,513.80v2.70 M315.12,513.80v2.70 M324.79,513.80v2.70 M334.45,513.80v2.70 M344.11,513.80v4.40 M353.78,513.80v2.70 M363.44,513.80v2.70 M373.10,513.80v2.70 M382.76,513.80v2.70 M392.43,513.80v4.40 M402.09,513.80v2.70 M411.75,513.80v2.70 M421.41,513.80v2.70 M431.08,513.80v2.70 M440.74,513.80v4.40 M450.40,513.80v2.70 M460.06,513.80v2.70 M469.73,513.80v2.70 M479.39,513.80v2.70 M489.05,513.80v4.40" stroke-width="1.3"/>
</g>
<g font-family='"Liberation Serif", "Times New Roman", Times, serif' font-size="17.3" fill="#000">
<text transform="translate(287.30,517.00) scale(1,1.09)" text-anchor="end">0</text>
<text transform="translate(287.30,482.40) scale(1,1.09)" text-anchor="end">0.1</text>
<text transform="translate(287.30,447.80) scale(1,1.09)" text-anchor="end">0.2</text>
<text transform="translate(287.30,413.20) scale(1,1.09)" text-anchor="end">0.3</text>
<text transform="translate(287.30,378.60) scale(1,1.09)" text-anchor="end">0.4</text>
<text transform="translate(287.30,344.00) scale(1,1.09)" text-anchor="end">0.5</text>
<text transform="translate(287.30,309.40) scale(1,1.09)" text-anchor="end">0.6</text>
<text transform="translate(296.70,537.00) scale(1,1.09)" text-anchor="middle">0.5</text>
<text transform="translate(345.01,537.00) scale(1,1.09)" text-anchor="middle">1</text>
<text transform="translate(393.32,537.00) scale(1,1.09)" text-anchor="middle">1.5</text>
<text transform="translate(441.64,537.00) scale(1,1.09)" text-anchor="middle">2</text>
<text transform="translate(489.95,537.00) scale(1,1.09)" text-anchor="middle">2.5</text>
<text x="370.20" y="287.80" text-anchor="middle">(d) Gas pressure - 120 Pa</text>
<text transform="translate(393.12,553.10) scale(1,1.06)" text-anchor="middle">z</text>
</g>
</g>
<g id="legend">
<rect x="49.75" y="561.8" width="444.5" height="192.4" fill="#fff" stroke="#333" stroke-width="1.6"/>
<g font-family='"Liberation Serif", "Times New Roman", Times, serif' font-size="18.5" fill="#000">
<text transform="translate(102.4,580.90) scale(1,0.94)">Ion flux - CEC approximation</text>
<text transform="translate(102.4,601.84) scale(1,0.94)">Electron flux -Druyvesteyn distribution</text>
<text transform="translate(102.4,622.78) scale(1,0.94)">Electron flux - Maxwellian distribution</text>
<text transform="translate(102.4,643.72) scale(1,0.94)">Electron flux - Margenau distribution:</text>
<text transform="translate(130.4,664.66) scale(1,0.94)" text-anchor="middle">(a)</text>
<text transform="translate(221.0,664.66) scale(1,0.94)" text-anchor="middle">(b)</text>
<text transform="translate(311.2,664.66) scale(1,0.94)" text-anchor="middle">(c)</text>
<text transform="translate(392.5,664.66) scale(1,0.94)" text-anchor="middle">(d)</text>
<text transform="translate(102.4,685.60) scale(1,0.94)">0.2MHz</text>
<text transform="translate(224.3,685.60) scale(1,0.94)" text-anchor="middle">5MHz</text>
<text transform="translate(345.6,685.60) scale(1,0.94)" text-anchor="end">30MHz</text>
<text transform="translate(369.3,685.60) scale(1,0.94)">150MHz</text>
<text transform="translate(102.4,706.54) scale(1,0.94)">0.4MHz</text>
<text transform="translate(224.3,706.54) scale(1,0.94)" text-anchor="middle">10MHz</text>
<text transform="translate(345.6,706.54) scale(1,0.94)" text-anchor="end">60MHz</text>
<text transform="translate(369.3,706.54) scale(1,0.94)">300MHz</text>
<text transform="translate(102.4,727.48) scale(1,0.94)">0.6MHz</text>
<text transform="translate(224.3,727.48) scale(1,0.94)" text-anchor="middle">15MHz</text>
<text transform="translate(345.6,727.48) scale(1,0.94)" text-anchor="end">90MHz</text>
<text transform="translate(369.3,727.48) scale(1,0.94)">450MHz</text>
<text transform="translate(102.4,748.42) scale(1,0.94)">0.8MHz</text>
<text transform="translate(224.3,748.42) scale(1,0.94)" text-anchor="middle">20MHz</text>
<text transform="translate(345.6,748.42) scale(1,0.94)" text-anchor="end">120MHz</text>
<text transform="translate(369.3,748.42) scale(1,0.94)">600MHz</text>
</g>
<g fill="none" stroke-width="1.25">
<path d="M54.2,573.45H96.2" stroke="#000" stroke-width="1.5" stroke-dasharray="18.2 6"/>
<path d="M54.2,594.55H96.2" stroke="#E5702A"/>
<path d="M54.2,615.45H96.2" stroke="#6B3A62"/>
<path d="M54.2,678.45H96.2" stroke="#EE9030"/>
<path d="M54.2,699.45H96.2" stroke="#0AA540"/>
<path d="M54.2,720.5H96.2" stroke="#60BEC0"/>
<path d="M54.2,741.45H96.2" stroke="#2C46A0"/>
</g>
</g>
</svg>
</body>
</html>
